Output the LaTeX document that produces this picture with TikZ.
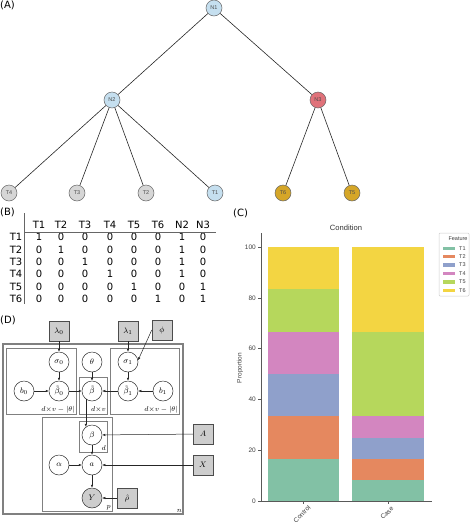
\documentclass[tikz,border=0pt]{standalone}
\usepackage{fontspec}
\setmainfont{DejaVu Sans}
\newfontfamily\chartfont{Liberation Sans}
\usetikzlibrary{arrows.meta}

\definecolor{tblue}{RGB}{197,223,239}
\definecolor{tred}{RGB}{224,114,122}
\definecolor{tgray}{RGB}{214,214,214}
\definecolor{tgold}{RGB}{213,166,40}
\definecolor{fT1}{RGB}{130,193,165}
\definecolor{fT2}{RGB}{229,136,95}
\definecolor{fT3}{RGB}{143,160,203}
\definecolor{fT4}{RGB}{211,134,192}
\definecolor{fT5}{RGB}{182,215,92}
\definecolor{fT6}{RGB}{243,213,66}
\definecolor{obsgray}{RGB}{205,205,205}

\begin{document}
\begin{tikzpicture}[x=1pt,y=-1pt,
	treenode/.style={circle,draw=black!60,line width=0.5pt,minimum size=16pt,inner sep=0pt,
		font=\chartfont\fontsize{5.5}{6}\selectfont,text=black!70},
	treeedge/.style={draw=black!85,line width=0.6pt},
	cell/.style={font=\fontsize{10}{12}\selectfont,inner sep=0pt},
	panel/.style={anchor=west,font=\fontsize{10}{12}\selectfont,inner sep=0pt},
	var/.style={circle,draw=black!80,fill=white,line width=0.5pt,minimum size=20pt,inner sep=0pt,
		font=\fontsize{8}{9}\selectfont},
	hyper/.style={rectangle,draw=black!70,fill=obsgray,line width=0.5pt,minimum size=20pt,inner sep=0pt,
		font=\fontsize{8}{9}\selectfont},
	plate/.style={draw=black!50,line width=0.7pt},
	platelabel/.style={font=\fontsize{7}{8}\selectfont,inner sep=1pt,anchor=south east},
	dep/.style={-{Latex[length=3pt,width=2.5pt]},line width=0.5pt,black!85},
	tick/.style={font=\chartfont\fontsize{6.5}{7}\selectfont,text=black!75}]

	\useasboundingbox (0,0) rectangle (474,528);

	% (A) tree
	\node[panel] (labA) at (0,5) {(A)};
	\node[treenode,fill=tblue] (N1) at (214,8) {N1};
	\node[treenode,fill=tblue] (N2) at (112,100) {N2};
	\node[treenode,fill=tred] (N3) at (318,100) {N3};
	\node[treenode,fill=tgray] (T4) at (9,193) {T4};
	\node[treenode,fill=tgray] (T3) at (77,193) {T3};
	\node[treenode,fill=tgray] (T2) at (146,193) {T2};
	\node[treenode,fill=tblue] (T1) at (215,193) {T1};
	\node[treenode,fill=tgold] (T6) at (283,193) {T6};
	\node[treenode,fill=tgold] (T5) at (352,193) {T5};

	\draw[treeedge] (N1) -- (N2);
	\draw[treeedge] (N1) -- (N3);
	\foreach \t in {T4,T3,T2,T1}
		\draw[treeedge] (N2) -- (\t);
	\foreach \t in {T6,T5}
		\draw[treeedge] (N3) -- (\t);

	% (B) table
	\node[panel] (labB) at (0,212) {(B)};
	\foreach \h [count=\i] in {T1,T2,T3,T4,T5,T6,N2,N3}
		\node[cell] (h\i) at ({\ifcase\i\or 39\or 61\or 85\or 110\or 134\or 158\or 182\or 203\fi},225) {\h};
	\foreach \r/\vals [count=\j] in {T1/{1,0,0,0,0,0,1,0},T2/{0,1,0,0,0,0,1,0},T3/{0,0,1,0,0,0,1,0},
			T4/{0,0,0,1,0,0,1,0},T5/{0,0,0,0,1,0,0,1},T6/{0,0,0,0,0,1,0,1}}{
		\node[cell] (r\j) at (16,{225+12.3*\j}) {\r};
		\foreach \v [count=\i] in \vals
			\node[cell] (c\j\i) at ({\ifcase\i\or 39\or 61\or 85\or 110\or 134\or 158\or 182\or 203\fi},{225+12.3*\j}) {\v};
	}
	\draw[black!60,line width=0.6pt] (24,213) -- (24,304);
	\draw[black!60,line width=0.6pt] (24,232) -- (216,232);

	% (C) stacked bars
	\node[panel] (labC) at (233,213) {(C)};
	\node[font=\chartfont\fontsize{7.6}{9}\selectfont,text=black!80] (title) at (346,228) {Condition};
	\foreach \lo/\hi/\c in {0/16.67/fT1,16.67/33.33/fT2,33.33/50/fT3,50/66.67/fT4,66.67/83.33/fT5,83.33/100/fT6}
		\fill[\c] (268,{501-2.54*\lo}) rectangle (339,{501-2.54*\hi});
	\foreach \lo/\hi/\c in {0/8.33/fT1,8.33/16.67/fT2,16.67/25/fT3,25/33.33/fT4,33.33/66.67/fT5,66.67/100/fT6}
		\fill[\c] (352,{501-2.54*\lo}) rectangle (424,{501-2.54*\hi});
	\draw[black!65,line width=0.8pt] (261,233) -- (261,501) -- (432,501);
	\foreach \v in {0,20,...,100}{
		\draw[black!65,line width=0.6pt] (258,{501-2.54*\v}) -- (261,{501-2.54*\v});
		\node[tick,anchor=east,inner sep=0pt] at (256,{501-2.54*\v}) {\v};
	}
	\draw[black!65,line width=0.6pt] (303.5,501) -- (303.5,504);
	\draw[black!65,line width=0.6pt] (388,501) -- (388,504);
	\node[tick,rotate=45] (xControl) at (302,514) {Control};
	\node[tick,rotate=45] (xCase) at (387,513) {Case};
	\node[tick,rotate=90] (ylab) at (240,368) {Proportion};

	% legend
	\draw[black!20,fill=white,line width=0.5pt,rounded corners=1pt] (439,233) rectangle (469,296);
	\node[font=\chartfont\fontsize{5.5}{6}\selectfont,text=black!75] (legT) at (458,239) {Feature};
	\foreach \c [count=\i] in {fT1,fT2,fT3,fT4,fT5,fT6}{
		\fill[\c] (443,{246.5+8.4*(\i-1)}) rectangle (455,{250+8.4*(\i-1)});
		\node[font=\chartfont\fontsize{5.5}{6}\selectfont,text=black!75,anchor=west,inner sep=0pt]
			(leg\i) at (459,{248.2+8.4*(\i-1)}) {T\i};
	}

	% (D) plate model
	\node[panel] (labD) at (0,320) {(D)};
	\draw[plate,line width=1.1pt] (3,344) rectangle (183,514);
	\draw[plate] (6,348) rectangle (76,414);
	\draw[plate] (79,377) rectangle (107,414);
	\draw[plate] (110,348) rectangle (179,414);
	\draw[plate] (42,417) rectangle (112,511);
	\draw[plate] (79,421) rectangle (107,452);
	\node[platelabel] at (76,414) {$d{\times}v-|\theta|$};
	\node[platelabel] at (107,414) {$d{\times}v$};
	\node[platelabel] at (179,414) {$d{\times}v-|\theta|$};
	\node[platelabel] at (112,511) {$p$};
	\node[platelabel] at (107,452) {$d$};
	\node[platelabel] at (183,514) {$n$};

	\node[hyper] (lam0) at (59,331) {$\lambda_0$};
	\node[hyper] (lam1) at (128,331) {$\lambda_1$};
	\node[hyper] (phi) at (162,330) {$\phi$};
	\node[var] (sig0) at (59,362) {$\sigma_0$};
	\node[var] (theta) at (92,362) {$\theta$};
	\node[var] (sig1) at (128,362) {$\sigma_1$};
	\node[var] (b0) at (24,391) {$b_0$};
	\node[var] (tbeta0) at (59,391) {$\tilde{\beta}_0$};
	\node[var] (tbeta) at (92,391) {$\tilde{\beta}$};
	\node[var] (tbeta1) at (128,391) {$\tilde{\beta}_1$};
	\node[var] (b1) at (163,391) {$b_1$};
	\node[var] (beta) at (92,435) {$\beta$};
	\node[var] (alpha) at (59,465) {$\alpha$};
	\node[var] (a) at (92,465) {$a$};
	\node[var,fill=obsgray] (Y) at (92,498) {$Y$};
	\node[hyper] (A) at (203,434) {$A$};
	\node[hyper] (X) at (203,465) {$X$};
	\node[hyper] (rho) at (127,498) {$\hat{\rho}$};

	\draw[dep] (lam0) -- (sig0);
	\draw[dep] (sig0) -- (tbeta0);
	\draw[dep] (b0) -- (tbeta0);
	\draw[dep] (tbeta0) -- (tbeta);
	\draw[dep] (theta) -- (tbeta);
	\draw[dep] (tbeta1) -- (tbeta);
	\draw[dep] (lam1) -- (sig1);
	\draw[dep] (phi.west) -- (sig1.10);
	\draw[dep] (sig1) -- (tbeta1);
	\draw[dep] (b1) -- (tbeta1);
	\draw[dep] (tbeta.233) -- (beta.127);
	\draw[dep] (A) -- (beta);
	\draw[dep] (beta) -- (a);
	\draw[dep] (alpha) -- (a);
	\draw[dep] (X) -- (a);
	\draw[dep] (a) -- (Y);
	\draw[dep] (rho) -- (Y);
\end{tikzpicture}
\end{document}
